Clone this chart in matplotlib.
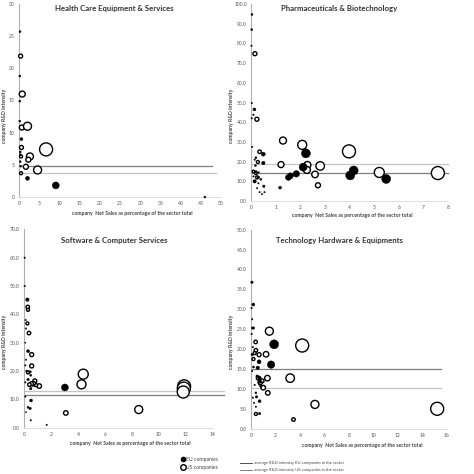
import matplotlib
matplotlib.use("Agg")
import matplotlib.pyplot as plt
from matplotlib.lines import Line2D
import numpy as np

plt.rcParams['font.family'] = ['Lato', 'DejaVu Sans']

titles = ["Health Care Equipment & Services", "Pharmaceuticals & Biotechnology",
          "Software & Computer Services", "Technology Hardware & Equipments"]
xlabel_main = "company  Net Sales as percentage of the sector total"
ylabel_main = "company R&D intensity"

# ---- Health Care (x = share of sector net sales %, y = R&D intensity, b = bubble size)
hc_eu_x = [0.25, 0.2, 0.2, 0.2, 0.6, 0.3, 0.3, 0.3, 0.4, 2.1, 9.1, 46.0]
hc_eu_y = [25.7, 18.8, 14.9, 11.8, 9.0, 7.0, 6.6, 5.5, 4.8, 2.9, 1.8, 0.0]
hc_eu_b = [2, 2, 2, 2, 3, 2, 2, 2, 2, 4, 7, 2]
hc_us_x = [0.4, 0.8, 0.7, 2.1, 0.6, 6.7, 2.7, 2.3, 0.5, 1.7, 4.6, 0.5]
hc_us_y = [21.9, 16.0, 10.8, 11.0, 7.7, 7.4, 6.3, 5.8, 6.3, 4.7, 4.2, 3.7]
hc_us_b = [4, 6, 5, 8, 4, 13, 7, 5, 3, 5, 8, 3]
hc_avg_eu, hc_avg_us = 4.8, 3.7

# ---- Pharmaceuticals & Biotechnology
ph_eu_x = [0.04, 0.03, 0.02, 0.03, 0.14, 0.1, 0.03, 0.05, 2.23, 0.5, 0.2, 0.15, 0.5, 0.18,
           2.12, 1.52, 1.6, 1.84, 4.03, 4.17, 5.49, 1.18, 0.3, 0.2, 0.3, 0.1, 0.15, 0.3,
           0.52, 0.55, 0.35, 0.45, 0.25, 0.4]
ph_eu_y = [94.7, 87.0, 78.8, 49.7, 46.5, 43.8, 42.0, 27.5, 24.2, 23.8, 22.0, 21.0, 19.3, 18.0,
           17.2, 12.0, 12.8, 13.8, 13.0, 15.5, 11.2, 6.8, 14.5, 15.0, 12.0, 12.5, 10.0, 9.0,
           7.5, 4.5, 4.5, 3.5, 6.5, 11.0]
ph_eu_b = [2, 2, 1.5, 1.5, 3, 1.5, 1.5, 1.5, 9, 4, 2, 1.5, 3.5, 2,
           8, 6, 6, 6.5, 9, 9, 9, 3, 2, 2, 2.5, 1.5, 2, 1.5,
           2.5, 1.5, 1.5, 1.5, 1.5, 2]
ph_us_x = [0.16, 0.24, 1.3, 2.08, 0.35, 0.28, 1.22, 3.98, 2.81, 2.29, 2.27, 2.6, 2.72, 5.21,
           7.59, 0.1, 0.25, 0.2, 0.15]
ph_us_y = [74.8, 41.5, 30.7, 28.5, 25.0, 19.8, 18.5, 25.2, 17.8, 18.3, 15.8, 13.5, 8.0, 14.5,
           14.2, 15.0, 12.0, 14.0, 10.0]
ph_us_b = [4, 4, 7, 9, 3.5, 3, 6, 13, 8.5, 7, 7, 6.5, 5, 10, 13, 2.5, 3, 2.5, 2.5]
ph_avg_eu, ph_avg_us = 14.2, 18.8

# ---- Software & Computer Services
sw_eu_x = [0.05, 0.05, 0.25, 0.12, 0.15, 0.1, 0.3, 0.15, 0.1, 0.2, 0.45, 0.5, 0.3, 0.1, 0.5,
           3.03, 0.52, 0.3, 0.45, 0.5, 1.68, 0.15, 0.1]
sw_eu_y = [60.0, 50.0, 45.2, 38.0, 35.0, 30.0, 27.0, 24.0, 22.0, 20.0, 19.7, 18.5, 17.0, 16.0,
           13.8, 14.2, 9.6, 7.2, 6.8, 2.6, 1.0, 5.5, 11.0]
sw_eu_b = [1.5, 1.5, 3.5, 1.5, 1.5, 1.2, 3, 1.5, 1.5, 2, 2.5, 2, 2.5, 1.5, 2.5,
           7, 3, 2, 2.5, 1.5, 1.5, 1.2, 1.5]
sw_us_x = [0.28, 0.3, 0.25, 0.37, 0.57, 0.57, 0.3, 0.8, 0.7, 0.55, 0.4, 1.13, 0.9, 4.26, 4.39,
           3.1, 8.5, 11.86, 11.84, 11.8]
sw_us_y = [42.6, 41.6, 36.8, 33.4, 25.8, 21.8, 19.5, 16.5, 15.5, 15.5, 15.2, 14.7, 15.0, 15.3,
           18.9, 5.2, 6.4, 14.6, 13.8, 12.6]
sw_us_b = [3.5, 3, 3, 3.5, 4, 4, 3, 4, 4.5, 4, 3.5, 4.5, 3, 9, 10, 4.5, 8, 13, 13, 12]
sw_avg_eu, sw_avg_us = 11.4, 12.9

# ---- Technology Hardware & Equipment
th_eu_x = [0.08, 0.19, 0.05, 0.1, 0.1, 0.2, 0.05, 1.89, 0.15, 0.1, 0.66, 1.64, 0.55, 0.2,
           0.1, 0.5, 0.7, 0.7, 0.8, 0.4, 0.45, 0.7, 0.25, 0.15, 0.7, 0.4, 0.3]
th_eu_y = [36.8, 31.2, 30.3, 27.5, 25.3, 25.3, 23.8, 21.2, 20.5, 18.6, 16.8, 16.1, 15.3, 15.5,
           14.5, 13.2, 12.7, 11.8, 10.7, 9.0, 8.0, 6.9, 6.5, 7.8, 3.8, 5.5, 11.0]
th_eu_b = [2.5, 3, 1.5, 1.5, 2, 2.5, 1.5, 9, 1.5, 2.5, 4, 7.5, 3.5, 2,
           1.5, 2.5, 3.5, 3.5, 2.5, 2, 2.5, 3, 1.5, 1.5, 2.5, 1.5, 1.5]
th_us_x = [1.5, 0.38, 4.18, 0.4, 0.66, 1.23, 0.2, 0.6, 1.34, 3.2, 0.9, 0.75, 1.0, 1.37, 5.22,
           0.4, 3.47, 15.2, 0.3]
th_us_y = [24.5, 21.8, 20.9, 19.7, 18.6, 18.7, 17.5, 12.7, 12.7, 12.7, 12.0, 11.5, 10.3, 9.0,
           6.1, 3.7, 2.3, 5.0, 19.0]
th_us_b = [8, 3.5, 13, 3.5, 4, 5.5, 3, 4, 5.5, 8.5, 4, 4, 4.5, 4.5, 8, 3, 3.5, 13, 3]
th_avg_eu, th_avg_us = 15.1, 10.2

panels = [
    dict(eu=(hc_eu_x, hc_eu_y, hc_eu_b), us=(hc_us_x, hc_us_y, hc_us_b), avg=(hc_avg_eu, hc_avg_us),
         xlim=(0, 50), xt=np.arange(0, 51, 5), ylim=(0, 30), yt=np.arange(0, 31, 5), fmt="{:.0f}",
         lend=(47.8, 48.8), rect=[0.0401, 0.5844, 0.4262, 0.4072]),
    dict(eu=(ph_eu_x, ph_eu_y, ph_eu_b), us=(ph_us_x, ph_us_y, ph_us_b), avg=(ph_avg_eu, ph_avg_us),
         xlim=(0, 8), xt=np.arange(0, 9, 1), ylim=(0, 100), yt=np.arange(0, 101, 10), fmt="{:.1f}",
         lend=(8.0, 8.0), rect=[0.5295, 0.5759, 0.4156, 0.4156]),
    dict(eu=(sw_eu_x, sw_eu_y, sw_eu_b), us=(sw_us_x, sw_us_y, sw_us_b), avg=(sw_avg_eu, sw_avg_us),
         xlim=(0, 14), xt=np.arange(0, 15, 2), ylim=(0, 70), yt=np.arange(0, 71, 10), fmt="{:.1f}",
         lend=(14.8, 14.8), rect=[0.0506, 0.0977, 0.3987, 0.4184]),
    dict(eu=(th_eu_x, th_eu_y, th_eu_b), us=(th_us_x, th_us_y, th_us_b), avg=(th_avg_eu, th_avg_us),
         xlim=(0, 16), xt=np.arange(0, 17, 2), ylim=(0, 50), yt=np.arange(0, 51, 5), fmt="{:.1f}",
         lend=(15.5, 15.5), rect=[0.5295, 0.0956, 0.4135, 0.4198]),
]

# text positions in reference pixels
title_pos = [(114, 8), (339, 8), (114, 241), (339, 241)]
xlab_pos = [(132, 213), (352, 216), (130, 443), (362, 446)]
ylab_pos = [(5, 116), (232, 116), (5, 342), (232, 342)]

W = 474.0
fig = plt.figure(figsize=(4.74, 4.74), dpi=100)

def px(x, y):
    return x / W, 1 - y / W

def bsize(b):
    # bubble diameter (px) -> scatter area in points^2
    return (np.asarray(b) * 0.72) ** 2

dark = "#7f7f7f"
light = "#c4c4c4"

for i, p in enumerate(panels):
    ax = fig.add_axes(p["rect"])
    ax.set_xlim(*p["xlim"])
    ax.set_ylim(*p["ylim"])
    ax.set_xticks(p["xt"])
    ax.set_yticks(p["yt"])
    ax.set_xticklabels([f"{int(v)}" for v in p["xt"]])
    ax.set_yticklabels([p["fmt"].format(v) for v in p["yt"]])
    ax.tick_params(axis="both", length=0, labelsize=3.6, colors="#555555", pad=3)
    for s in ["top", "right"]:
        ax.spines[s].set_visible(False)
    ax.spines["left"].set_color("#b0b0b0")
    ax.spines["left"].set_linewidth(0.8)
    ax.spines["bottom"].set_color("#d8d8d8")
    ax.spines["bottom"].set_linewidth(0.6)
    ax.patch.set_alpha(0)

    ex, ey, eb = p["eu"]
    ux, uy, ub = p["us"]
    ax.scatter(ux, uy, s=bsize(ub), facecolors="white", edgecolors="black",
               linewidths=1.0, zorder=3, clip_on=False)
    ax.scatter(ex, ey, s=bsize(eb), facecolors="black", edgecolors="black",
               linewidths=0.3, zorder=4, clip_on=False)
    ax.plot([0, p["lend"][0]], [p["avg"][0], p["avg"][0]], color=dark, lw=0.9, zorder=2, clip_on=False)
    ax.plot([0, p["lend"][1]], [p["avg"][1], p["avg"][1]], color=light, lw=0.9, zorder=2, clip_on=False)

    tx, ty = px(*title_pos[i])
    fig.text(tx, ty, titles[i], ha="center", va="center", fontsize=5.6, fontweight="bold", color="#333333")
    lx, ly = px(*xlab_pos[i])
    fig.text(lx, ly, xlabel_main, ha="center", va="center", fontsize=3.7, fontweight="bold", color="#444444")
    yx, yy = px(*ylab_pos[i])
    fig.text(yx, yy, ylabel_main, ha="center", va="center", rotation=90, fontsize=3.7,
             fontweight="bold", color="#444444")

# legends
mx, my = px(183, 459)
fig.add_artist(Line2D([mx], [my], marker="o", markersize=3.0, color="black", linestyle="none",
                      transform=fig.transFigure))
mx2, my2 = px(183, 467)
fig.add_artist(Line2D([mx2], [my2], marker="o", markersize=4.0, markerfacecolor="white",
                      markeredgecolor="black", markeredgewidth=1.0, linestyle="none",
                      transform=fig.transFigure))
fig.text(*px(186, 459), "EU companies", fontsize=3.7, va="center", color="#444444")
fig.text(*px(186, 467), "US companies", fontsize=3.7, va="center", color="#444444")

x1, y1 = px(240, 463)
x2, _ = px(252, 463)
fig.add_artist(Line2D([x1, x2], [y1, y1], color="#333333", lw=0.6, transform=fig.transFigure))
x1, y2 = px(240, 470)
fig.add_artist(Line2D([x1, x2], [y2, y2], color="#666666", lw=0.6, transform=fig.transFigure))
fig.text(*px(254, 463), "average R&D intensity EU companies in the sector", fontsize=3.0,
         va="center", color="#444444")
fig.text(*px(254, 470), "average R&D intensity US companies in the sector", fontsize=3.0,
         va="center", color="#444444")

fig.savefig("out.png", dpi=100, facecolor="white")
